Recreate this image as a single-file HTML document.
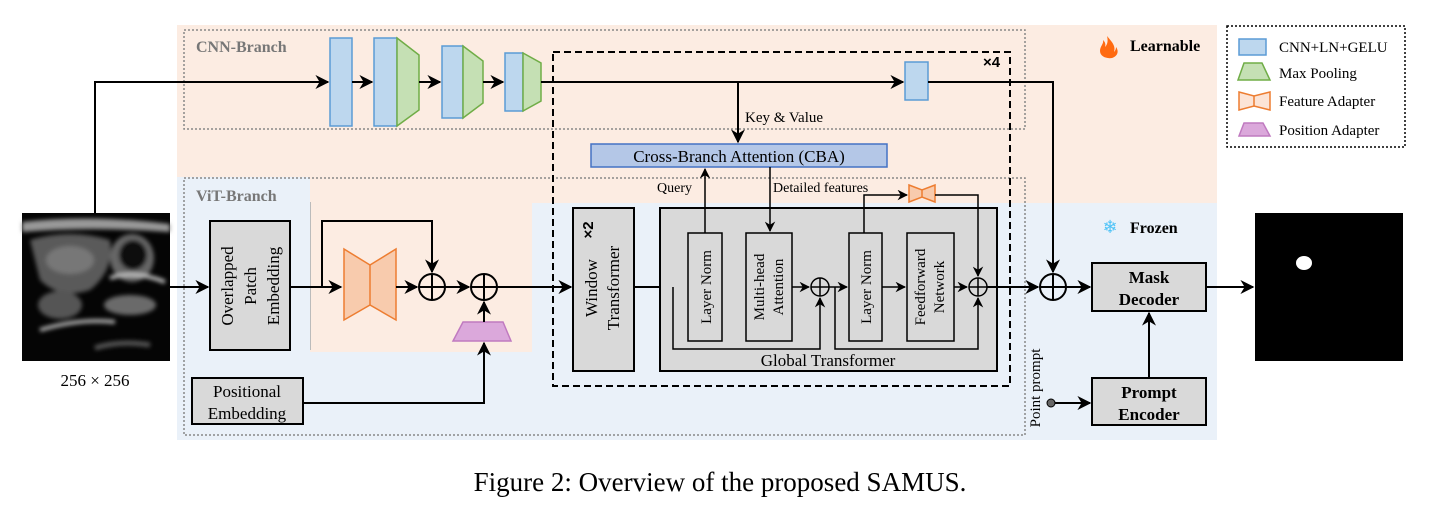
<!DOCTYPE html>
<html><head><meta charset="utf-8"><style>
html,body{margin:0;padding:0;background:#fff;}
svg{display:block;font-family:"Liberation Serif",serif;}
</style></head><body>
<svg width="1440" height="520" viewBox="0 0 1440 520" xmlns="http://www.w3.org/2000/svg">
<defs>
<marker id="ar" viewBox="0 0 10 10" refX="9" refY="5" markerWidth="7" markerHeight="7" orient="auto-start-reverse"><path d="M0,0 L10,5 L0,10 L3,5 z" fill="#000"/></marker>
<filter id="bl"><feGaussianBlur stdDeviation="2"/></filter>
</defs>
<rect x="177" y="25" width="1040" height="178" fill="#fcece2"/>
<rect x="177" y="177" width="133" height="263" fill="#eaf1f9"/>
<rect x="310" y="352" width="222" height="88" fill="#eaf1f9"/>
<rect x="532" y="203" width="685" height="237" fill="#eaf1f9"/>
<rect x="310" y="177" width="222" height="175" fill="#fcece2"/>
<line x1="310.5" y1="202" x2="310.5" y2="350" stroke="#bbb" stroke-width="1"/>
<rect x="184" y="30" width="841" height="99" fill="none" stroke="#888" stroke-width="1.5" stroke-dasharray="2,2"/>
<rect x="184" y="178" width="841" height="257" fill="none" stroke="#888" stroke-width="1.5" stroke-dasharray="2,2"/>
<text x="196" y="52" font-size="16" font-weight="bold" fill="#777">CNN-Branch</text>
<text x="196" y="201" font-size="16" font-weight="bold" fill="#777">ViT-Branch</text>
<rect x="553" y="52" width="457" height="334" fill="none" stroke="#000" stroke-width="2" stroke-dasharray="7,4"/>
<text x="983" y="67" font-size="15" font-weight="bold" font-family="Liberation Sans,sans-serif">×4</text>

<g>
<rect x="22" y="213" width="148" height="148" fill="#050505"/>
<g filter="url(#bl)">
<path d="M22,222 Q90,214 170,224 L170,232 Q90,226 22,232 z" fill="#999"/>
<path d="M30,240 Q70,228 110,240 Q115,270 90,290 Q60,300 40,280 z" fill="#5a5a5a"/>
<ellipse cx="70" cy="260" rx="24" ry="14" fill="#777"/>
<ellipse cx="60" cy="305" rx="22" ry="14" fill="#555"/>
<ellipse cx="132" cy="258" rx="22" ry="24" fill="#666"/>
<ellipse cx="133" cy="255" rx="14" ry="15" fill="#0a0a0a"/>
<path d="M110,278 Q135,270 165,282" stroke="#bbb" stroke-width="4" fill="none"/>
<ellipse cx="130" cy="305" rx="26" ry="10" fill="#6a6a6a"/>
<path d="M40,330 Q80,318 115,322" stroke="#aaa" stroke-width="4" fill="none"/>
<path d="M95,348 Q120,340 150,345" stroke="#555" stroke-width="5" fill="none"/>
</g>
</g>
<text x="95" y="386" font-size="17" text-anchor="middle">256 × 256</text>

<path d="M95,213 V82 H328" fill="none" stroke="#000" stroke-width="2" marker-end="url(#ar)"/>
<rect x="330" y="38" width="22" height="88" fill="#bdd7ee" stroke="#5b9bd5" stroke-width="1.5"/>
<line x1="352" y1="82" x2="372" y2="82" stroke="#000" stroke-width="2" marker-end="url(#ar)"/>
<rect x="374" y="38" width="23" height="88" fill="#bdd7ee" stroke="#5b9bd5" stroke-width="1.5"/>
<path d="M397,38 L419,55 L419,110 L397,126 z" fill="#c5e0b4" stroke="#70ad47" stroke-width="1.5"/>
<line x1="419" y1="82" x2="440" y2="82" stroke="#000" stroke-width="2" marker-end="url(#ar)"/>
<rect x="442" y="46" width="21" height="72" fill="#bdd7ee" stroke="#5b9bd5" stroke-width="1.5"/>
<path d="M463,46 L483,61 L483,103 L463,118 z" fill="#c5e0b4" stroke="#70ad47" stroke-width="1.5"/>
<line x1="483" y1="82" x2="503" y2="82" stroke="#000" stroke-width="2" marker-end="url(#ar)"/>
<rect x="505" y="53" width="18" height="58" fill="#bdd7ee" stroke="#5b9bd5" stroke-width="1.5"/>
<path d="M523,53 L541,63 L541,101 L523,111 z" fill="#c5e0b4" stroke="#70ad47" stroke-width="1.5"/>
<line x1="541" y1="82" x2="903" y2="82" stroke="#000" stroke-width="2" marker-end="url(#ar)"/>
<rect x="905" y="62" width="23" height="38" fill="#bdd7ee" stroke="#5b9bd5" stroke-width="1.5"/>
<path d="M928,82 H1053 V272" fill="none" stroke="#000" stroke-width="2" marker-end="url(#ar)"/>
<line x1="738" y1="82" x2="738" y2="142" stroke="#000" stroke-width="2" marker-end="url(#ar)"/>
<text x="745" y="122" font-size="15">Key &amp; Value</text>

<rect x="591" y="144" width="296" height="23" fill="#b4c7e7" stroke="#4472c4" stroke-width="1.5"/>
<text x="739" y="162" font-size="17" text-anchor="middle">Cross-Branch Attention (CBA)</text>
<text x="657" y="192" font-size="14">Query</text>
<text x="773" y="192" font-size="14">Detailed features</text>

<line x1="170" y1="287" x2="208" y2="287" stroke="#000" stroke-width="2" marker-end="url(#ar)"/>
<rect x="210" y="221" width="80" height="129" fill="#d9d9d9" stroke="#000" stroke-width="2"/>
<text transform="translate(250,286) rotate(-90)" font-size="17" text-anchor="middle"><tspan x="0" dy="-17">Overlapped</tspan><tspan x="0" dy="23">Patch</tspan><tspan x="0" dy="23">Embedding</tspan></text>
<line x1="290" y1="287" x2="341" y2="287" stroke="#000" stroke-width="2" marker-end="url(#ar)"/>
<path d="M322,287 V221 H432 V272" fill="none" stroke="#000" stroke-width="2" marker-end="url(#ar)"/>
<path d="M344,249 L370,265 L396,249 L396,320 L370,305 L344,320 z" fill="#f8cbad" stroke="#ed7d31" stroke-width="1.5"/>
<line x1="370" y1="265" x2="370" y2="305" stroke="#ed7d31" stroke-width="1.5"/>
<line x1="396" y1="287" x2="417" y2="287" stroke="#000" stroke-width="2" marker-end="url(#ar)"/>
<circle cx="432" cy="287" r="13" fill="none" stroke="#000" stroke-width="2"/>
<path d="M419,287 H445 M432,274 V300" stroke="#000" stroke-width="2"/>
<line x1="445" y1="287" x2="469" y2="287" stroke="#000" stroke-width="2" marker-end="url(#ar)"/>
<circle cx="484" cy="287" r="13" fill="none" stroke="#000" stroke-width="2"/>
<path d="M471,287 H497 M484,274 V300" stroke="#000" stroke-width="2"/>
<path d="M463,322 L503,322 L511,341 L453,341 z" fill="#dba8db" stroke="#c07ac0" stroke-width="1.5"/>
<line x1="484" y1="322" x2="484" y2="302" stroke="#000" stroke-width="2" marker-end="url(#ar)"/>
<rect x="192" y="378" width="111" height="46" fill="#d9d9d9" stroke="#000" stroke-width="2"/>
<text x="247" y="397" font-size="17" text-anchor="middle">Positional</text>
<text x="247" y="419" font-size="17" text-anchor="middle">Embedding</text>
<path d="M303,403 H484 V343" fill="none" stroke="#000" stroke-width="2" marker-end="url(#ar)"/>
<line x1="497" y1="287" x2="571" y2="287" stroke="#000" stroke-width="2" marker-end="url(#ar)"/>

<rect x="573" y="208" width="61" height="163" fill="#d9d9d9" stroke="#000" stroke-width="2"/>
<text transform="translate(603,288) rotate(-90)" font-size="17" text-anchor="middle"><tspan x="0" dy="-6">Window</tspan><tspan x="0" dy="22">Transformer</tspan></text>
<text transform="translate(593,230) rotate(-90)" font-size="15" font-weight="bold" font-family="Liberation Sans,sans-serif" text-anchor="middle">×2</text>
<line x1="634" y1="287" x2="686" y2="287" stroke="#000" stroke-width="2" marker-end="url(#ar)"/>

<rect x="660" y="208" width="337" height="163" fill="#d9d9d9" stroke="#000" stroke-width="2"/>
<text x="828" y="366" font-size="17" text-anchor="middle">Global Transformer</text>
<rect x="688" y="233" width="34" height="108" fill="#d9d9d9" stroke="#000" stroke-width="1.5"/>
<text transform="translate(711,287) rotate(-90)" font-size="15" text-anchor="middle">Layer Norm</text>
<rect x="746" y="233" width="46" height="108" fill="#d9d9d9" stroke="#000" stroke-width="1.5"/>
<text transform="translate(769,287) rotate(-90)" font-size="15" text-anchor="middle"><tspan x="0" dy="-5">Multi-head</tspan><tspan x="0" dy="19">Attention</tspan></text>
<line x1="792" y1="287" x2="809" y2="287" stroke="#000" stroke-width="1.5" marker-end="url(#ar)"/>
<circle cx="820" cy="287" r="9" fill="none" stroke="#000" stroke-width="1.5"/>
<path d="M811,287 H829 M820,278 V296" stroke="#000" stroke-width="1.5"/>
<path d="M673,287 V349 H820 V298" fill="none" stroke="#000" stroke-width="1.5" marker-end="url(#ar)"/>
<line x1="829" y1="287" x2="847" y2="287" stroke="#000" stroke-width="1.5" marker-end="url(#ar)"/>
<rect x="849" y="233" width="33" height="108" fill="#d9d9d9" stroke="#000" stroke-width="1.5"/>
<text transform="translate(871,287) rotate(-90)" font-size="15" text-anchor="middle">Layer Norm</text>
<line x1="882" y1="287" x2="905" y2="287" stroke="#000" stroke-width="1.5" marker-end="url(#ar)"/>
<rect x="907" y="233" width="47" height="108" fill="#d9d9d9" stroke="#000" stroke-width="1.5"/>
<text transform="translate(930,287) rotate(-90)" font-size="15" text-anchor="middle"><tspan x="0" dy="-5">Feedforward</tspan><tspan x="0" dy="19">Network</tspan></text>
<line x1="954" y1="287" x2="967" y2="287" stroke="#000" stroke-width="1.5" marker-end="url(#ar)"/>
<circle cx="978" cy="287" r="9" fill="none" stroke="#000" stroke-width="1.5"/>
<path d="M969,287 H987 M978,278 V296" stroke="#000" stroke-width="1.5"/>
<path d="M835,287 V349 H978 V298" fill="none" stroke="#000" stroke-width="1.5" marker-end="url(#ar)"/>
<path d="M864,233 V195 H907" fill="none" stroke="#000" stroke-width="1.5" marker-end="url(#ar)"/>
<path d="M909,185 L922,190 L935,185 L935,202 L922,197 L909,202 z" fill="#f8cbad" stroke="#ed7d31" stroke-width="1.5"/>
<line x1="922" y1="190" x2="922" y2="197" stroke="#ed7d31" stroke-width="1.5"/>
<path d="M935,195 H978 V276" fill="none" stroke="#000" stroke-width="1.5" marker-end="url(#ar)"/>
<line x1="705" y1="233" x2="705" y2="169" stroke="#000" stroke-width="1.5" marker-end="url(#ar)"/>
<line x1="770" y1="167" x2="770" y2="231" stroke="#000" stroke-width="1.5" marker-end="url(#ar)"/>
<line x1="987" y1="287" x2="1038" y2="287" stroke="#000" stroke-width="2" marker-end="url(#ar)"/>

<circle cx="1053" cy="287" r="13" fill="none" stroke="#000" stroke-width="2"/>
<path d="M1040,287 H1066 M1053,274 V300" stroke="#000" stroke-width="2"/>
<line x1="1066" y1="287" x2="1090" y2="287" stroke="#000" stroke-width="2" marker-end="url(#ar)"/>
<rect x="1092" y="263" width="114" height="48" fill="#d9d9d9" stroke="#000" stroke-width="2"/>
<text x="1149" y="283" font-size="17" font-weight="bold" text-anchor="middle">Mask</text>
<text x="1149" y="305" font-size="17" font-weight="bold" text-anchor="middle">Decoder</text>
<rect x="1092" y="378" width="114" height="47" fill="#d9d9d9" stroke="#000" stroke-width="2"/>
<text x="1149" y="398" font-size="17" font-weight="bold" text-anchor="middle">Prompt</text>
<text x="1149" y="420" font-size="17" font-weight="bold" text-anchor="middle">Encoder</text>
<line x1="1149" y1="378" x2="1149" y2="313" stroke="#000" stroke-width="2" marker-end="url(#ar)"/>
<circle cx="1051" cy="403" r="4" fill="#666" stroke="#000" stroke-width="1"/>
<line x1="1055" y1="403" x2="1090" y2="403" stroke="#000" stroke-width="2" marker-end="url(#ar)"/>
<text transform="translate(1040,388) rotate(-90)" font-size="15" text-anchor="middle">Point prompt</text>
<line x1="1206" y1="287" x2="1253" y2="287" stroke="#000" stroke-width="2" marker-end="url(#ar)"/>
<rect x="1255" y="213" width="148" height="148" fill="#000"/>
<ellipse cx="1304" cy="263" rx="8" ry="7" fill="#fff"/>

<path d="M1107,36 C1112,42 1116,46 1114,52 C1116,50 1116,48 1116,47 C1119,51 1118,56 1112,58 C1106,59 1100,56 1100,51 C1100,46 1104,44 1103,40 C1105,42 1106,44 1105,47 C1108,44 1108,40 1107,36 z" fill="#ff6a10"/>
<text x="1130" y="51" font-size="16" font-weight="bold">Learnable</text>
<text x="1110" y="233" font-size="18" fill="#4fc3f7" text-anchor="middle" font-family="DejaVu Sans,sans-serif">❄</text>
<text x="1130" y="233" font-size="16" font-weight="bold">Frozen</text>

<rect x="1227" y="26" width="178" height="121" fill="#fff" stroke="#000" stroke-width="1.5" stroke-dasharray="2,2"/>
<rect x="1239" y="39" width="27" height="16" fill="#bdd7ee" stroke="#5b9bd5" stroke-width="1.5"/>
<text x="1279" y="52" font-size="15">CNN+LN+GELU</text>
<path d="M1244,63 L1262,63 L1270,80 L1238,80 z" fill="#c5e0b4" stroke="#70ad47" stroke-width="1.5"/>
<text x="1279" y="78" font-size="15">Max Pooling</text>
<path d="M1239,92 L1254,96 L1270,92 L1270,110 L1254,106 L1239,110 z" fill="#fce4d6" stroke="#ed7d31" stroke-width="1.5"/>
<line x1="1254" y1="96" x2="1254" y2="106" stroke="#ed7d31" stroke-width="1.5"/>
<text x="1279" y="106" font-size="15">Feature Adapter</text>
<path d="M1244,123 L1263,123 L1270,136 L1239,136 z" fill="#dba8db" stroke="#c07ac0" stroke-width="1.5"/>
<text x="1279" y="135" font-size="15">Position Adapter</text>

<text x="720" y="491" font-size="27" text-anchor="middle">Figure 2: Overview of the proposed SAMUS.</text>
</svg>
</body></html>
